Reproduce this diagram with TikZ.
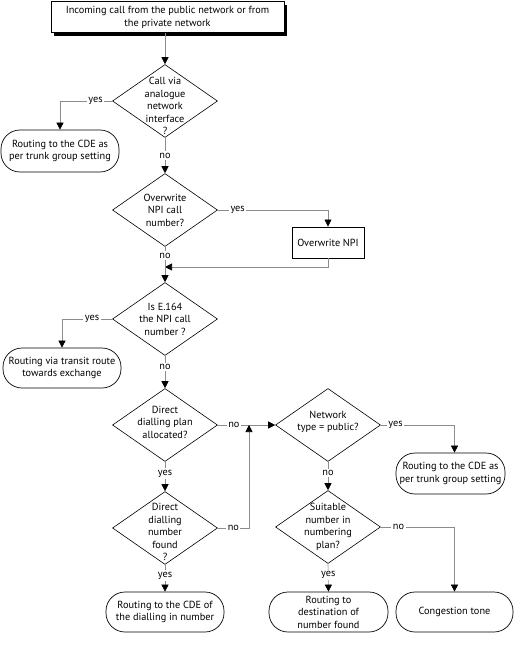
\documentclass[tikz,border=0pt]{standalone}
\usepackage{fontspec}
\setmainfont{PT Sans}
\usetikzlibrary{shapes.geometric,arrows.meta,shadows}

\begin{document}
\begin{tikzpicture}[x=1pt,y=-1pt,
    font=\fontsize{10.3}{12.5}\selectfont,
    every node/.append style={inner sep=0pt},
    line/.style={draw=black!45, line width=0.6pt, -{Triangle[color=black,length=7pt,width=7pt]}},
    lbl/.style={fill=white, inner sep=1.5pt},
    decision/.style={diamond, draw, line width=0.6pt, minimum width=105pt, minimum height=73pt},
    stadium/.style={draw, line width=0.7pt, rounded corners=19pt, align=center, minimum height=40pt},
    startbox/.style={draw, line width=1pt, fill=white, align=center, minimum width=233pt, minimum height=31pt,
      drop shadow={shadow xshift=3pt, shadow yshift=-3pt, fill=black, opacity=1}}]
  \useasboundingbox (0,0) rectangle (522,647);

  % start
  \node[startbox] (start) at (167.5,17.5) {Incoming call from the public network or from\\the private network};

  % questions
  \node[decision, label={[align=center,yshift=-5pt]center:Call via\\analogue\\network\\interface\\?}] (d1) at (165,101) {};
  \node[decision, label={[align=center]center:Overwrite\\NPI call\\number?}] (d2) at (165,210) {};
  \node[decision, label={[align=center]center:Is E.164\\the NPI call\\number ?}] (d3) at (165,319) {};
  \node[decision, label={[align=center,yshift=3pt]center:Direct\\dialling plan\\allocated?}] (d4) at (165,425) {};
  \node[decision, label={[align=center,yshift=-4pt]center:Direct\\dialling\\number\\found\\?}] (d7) at (165,528) {};
  \node[decision, label={[align=center,yshift=3pt]center:Network\\type = public?}] (d5) at (328,425) {};
  \node[decision, label={[align=center]center:Suitable\\number in\\numbering\\plan?}] (d6) at (328,527) {};

  % results
  \node[stadium, minimum width=118pt, minimum height=42pt] (r1) at (60,151) {Routing to the CDE as\\per trunk group setting};
  \node[draw, line width=0.9pt, minimum width=72pt, minimum height=31pt] (npi) at (328,242.5) {Overwrite NPI};
  \node[stadium, minimum width=118pt] (r2) at (62,368) {Routing via transit route\\towards exchange};
  \node[stadium, minimum width=109pt, minimum height=41pt] (r3) at (450.5,473.5) {Routing to the CDE as\\per trunk group setting};
  \node[stadium, minimum width=118pt] (r4) at (165,612) {Routing to the CDE of\\the dialling in number};
  \node[stadium, minimum width=119pt] (dest) at (328.5,612) {Routing to\\destination of\\number found};
  \node[stadium, minimum width=117pt] (cong) at (454.5,612) {Congestion tone};

  \coordinate (merge) at (165,267);
  \coordinate (join) at (249,425);

  % connectors
  \draw[line] (start.south -| d1.north) -- (d1.north);
  \draw[line] (d1.west) -| node[lbl,pos=0.16]{yes} (r1.north);
  \draw[line] (d1.south) -- node[lbl]{no} (d2.north);
  \draw[line] (d2.east) -| node[lbl,pos=0.09]{yes} (npi.north);
  \draw[line] (npi.south) |- (merge);
  \draw[line] (d2.south) -- node[lbl,pos=0.25]{no} (d3.north);
  \draw[line] (d3.west) -| node[lbl,pos=0.2]{yes} (r2.north);
  \draw[line] (d3.south) -- node[lbl,pos=0.35]{no} (d4.north);
  \draw[line] (d4.east) -- node[lbl,pos=0.28]{no} (d5.west);
  \draw[line] (d4.south) -- node[lbl,pos=0.4]{yes} (d7.north);
  \draw[line] (d7.east) -| node[lbl,pos=0.25]{no} (join);
  \draw[line] (d5.east) -| node[lbl,pos=0.1]{yes} (r3.north -| cong.north);
  \draw[line] (d5.south) -- node[lbl,pos=0.4]{no} (d6.north);
  \draw[line] (d6.east) -| node[lbl,pos=0.12]{no} (cong.north);
  \draw[line] (d6.south) -- node[lbl,pos=0.4]{yes} (dest.north);
  \draw[line] (d7.south) -- node[lbl,pos=0.4]{yes} (r4.north);
\end{tikzpicture}
\end{document}
